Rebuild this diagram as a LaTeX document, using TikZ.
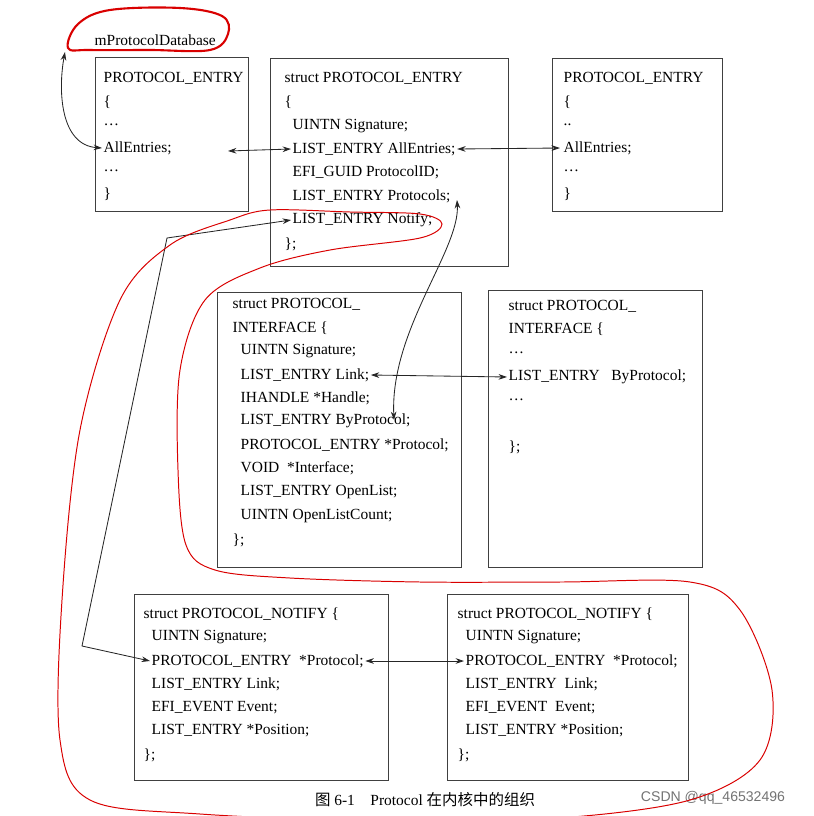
\documentclass[tikz,border=0pt]{standalone}
\usepackage{fontspec}
\setmainfont{Liberation Serif}
\newfontfamily\cjk{Noto Sans CJK SC}
\newfontfamily\wm{Liberation Sans}
\usetikzlibrary{arrows.meta}
\begin{document}
\begin{tikzpicture}[x=0.025cm,y=-0.025cm,
  t/.style={anchor=west,inner sep=1pt,font=\fontsize{11}{12}\selectfont},
  box/.style={draw=black!75,line width=0.7pt},
  con/.style={draw=black!85,line width=0.6pt,{Stealth[length=6pt,width=4pt]}-{Stealth[length=6pt,width=4pt]}},
  red/.style={draw=red!85!black,line width=0.7pt}]
\useasboundingbox (0,0) rectangle (814,816);
% boxes
\draw[box] (95,57) rectangle (248,211);
\draw[box] (270,58) rectangle (508,266);
\draw[box] (552,58) rectangle (722,211);
\draw[box] (217,292) rectangle (461,567);
\draw[box] (488,290) rectangle (702,567);
\draw[box] (134,594) rectangle (388,780);
\draw[box] (447,594) rectangle (688,780);
% top label
\node[t] (db) at (93,40) {mProtocolDatabase};
% box A
\node[t] (a1) at (102,78) {PROTOCOL\_ENTRY};
\node[t] (a2) at (102,102) {\{};
\node[t] (a3) at (102,125) {\dots};
\node[t] (a4) at (102,148) {AllEntries;};
\node[t] (a5) at (102,171) {\dots};
\node[t] (a6) at (102,194) {\}};
% box B
\node[t] (b1) at (283,78) {struct PROTOCOL\_ENTRY};
\node[t] (b2) at (283,102) {\{};
\node[t] (b3) at (291,126) {UINTN Signature;};
\node[t] (b4) at (291,149) {LIST\_ENTRY AllEntries;};
\node[t] (b5) at (291,172) {EFI\_GUID ProtocolID;};
\node[t] (b6) at (291,196) {LIST\_ENTRY Protocols;};
\node[t] (b7) at (291,220) {LIST\_ENTRY Notify;};
\node[t] (b8) at (283,244) {\};};
% box C
\node[t] (c1) at (562,78) {PROTOCOL\_ENTRY};
\node[t] (c2) at (562,102) {\{};
\node[t] (c3) at (562,125) {..};
\node[t] (c4) at (562,148) {AllEntries;};
\node[t] (c5) at (562,171) {\dots};
\node[t] (c6) at (562,194) {\}};
% box D
\node[t] (d1) at (231,304) {struct PROTOCOL\_};
\node[t] (d2) at (231,328) {INTERFACE \{};
\node[t] (d3) at (239,351) {UINTN Signature;};
\node[t] (d4) at (239,375) {LIST\_ENTRY Link;};
\node[t] (d5) at (239,398) {IHANDLE *Handle;};
\node[t] (d6) at (239,421) {LIST\_ENTRY ByProtocol;};
\node[t] (d7) at (239,445) {PROTOCOL\_ENTRY *Protocol;};
\node[t] (d8) at (239,468) {VOID\ \ *Interface;};
\node[t] (d9) at (239,492) {LIST\_ENTRY OpenList;};
\node[t] (d10) at (239,516) {UINTN OpenListCount;};
\node[t] (d11) at (231,540) {\};};
% box E
\node[t] (e1) at (507,306) {struct PROTOCOL\_};
\node[t] (e2) at (507,329) {INTERFACE \{};
\node[t] (e3) at (507,353) {\dots};
\node[t] (e4) at (507,377) {LIST\_ENTRY\ \ \ ByProtocol;};
\node[t] (e5) at (507,400) {\dots};
\node[t] (e6) at (507,447) {\};};
% box F
\node[t] (f1) at (142,614) {struct PROTOCOL\_NOTIFY \{};
\node[t] (f2) at (150,637) {UINTN Signature;};
\node[t] (f3) at (150,661) {PROTOCOL\_ENTRY\ \ *Protocol;};
\node[t] (f4) at (150,684) {LIST\_ENTRY Link;};
\node[t] (f5) at (150,708) {EFI\_EVENT Event;};
\node[t] (f6) at (150,731) {LIST\_ENTRY *Position;};
\node[t] (f7) at (142,755) {\};};
% box G
\node[t] (g1) at (456,614) {struct PROTOCOL\_NOTIFY \{};
\node[t] (g2) at (464,637) {UINTN Signature;};
\node[t] (g3) at (464,661) {PROTOCOL\_ENTRY\ \ *Protocol;};
\node[t] (g4) at (464,684) {LIST\_ENTRY\ \ Link;};
\node[t] (g5) at (464,708) {EFI\_EVENT\ \ Event;};
\node[t] (g6) at (464,731) {LIST\_ENTRY *Position;};
\node[t] (g7) at (456,755) {\};};
% caption and watermark
\node[inner sep=0pt,font=\fontsize{11}{12}\selectfont] (cap) at (425,800) {{\cjk 图} 6-1\quad Protocol {\cjk 在内核中的组织}};
\node[inner sep=0pt,font=\wm\fontsize{10}{12}\selectfont,text=black!55] (wmk) at (713,798) {CSDN @qq\_46532496};
% connectors
\coordinate (dbend) at (65,52);
\draw[con] (dbend) .. controls (58,90) and (60,145) .. (a4.west);
\coordinate (aR) at (228,151);
\draw[con] (aR) -- (b4.west);
\coordinate (cL) at (560,148);
\draw[con] (b4.east) -- (cL);
\coordinate (bp) at (457,200);
\coordinate (dp) at (394,420);
\draw[con] (bp) .. controls (460,250) and (390,330) .. (dp);
\draw[con] (d4.east) -- (e4.west);
\coordinate (k1) at (167,238);
\coordinate (k2) at (82,646);
\draw[con] (b7.west) -- (k1) -- (k2) -- (f3.west);
\draw[con] (f3.east) -- (g3.west);
% red annotations
\draw[red,line width=1.5pt] plot[smooth cycle,tension=0.6] coordinates {
 (68,48) (78,24) (110,10) (180,8) (222,16) (228,34) (210,50) (150,50) (90,50)};
\draw[red] plot[smooth cycle,tension=0.55] coordinates {
 (270,210) (350,212) (420,214) (442,224) (420,238) (330,250) (260,268) (205,300)
 (180,370) (178,470) (186,545) (215,570) (290,578) (420,582) (560,582) (690,582)
 (740,610) (772,690) (760,760) (690,800) (560,818) (400,822) (200,814) (90,800)
 (60,740) (62,600) (80,430) (120,300) (170,245) (230,220)};
\end{tikzpicture}
\end{document}
